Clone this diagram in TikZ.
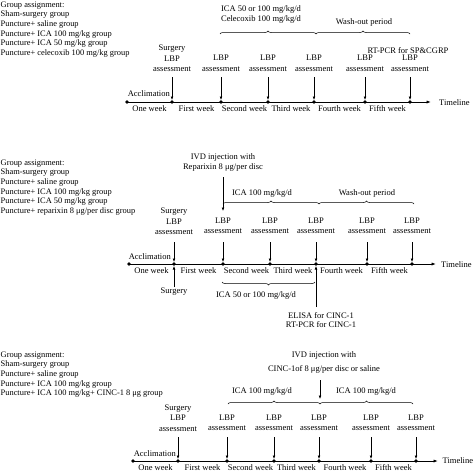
\documentclass[tikz,border=0pt]{standalone}
\usepackage{fontspec}
\setmainfont{Liberation Serif}
\usetikzlibrary{arrows.meta,decorations.pathreplacing}
\begin{document}
\begin{tikzpicture}[x=1pt,y=-1pt,
 lbl/.style={font=\fontsize{8.5}{10.5}\selectfont, inner sep=0pt, align=center},
 grp/.style={font=\fontsize{8.4}{9.6}\selectfont, inner sep=0pt, align=left, anchor=north west},
 tdot/.style={circle, fill, inner sep=0pt, minimum size=3.6pt},
 tline/.style={line width=0.9pt, -{Latex[length=4.5pt,width=3.2pt]}},
 darr/.style={line width=0.6pt, -{Latex[length=3.5pt,width=2.8pt]}},
 brc/.style={decorate, decoration={brace, amplitude=3pt}, line width=0.5pt},
 brcm/.style={decorate, decoration={brace, amplitude=3pt, mirror}, line width=0.5pt},
]
\useasboundingbox (0,0) rectangle (474,474);

%% ---------------- Panel 1 ----------------
\node[grp] (g1) at (0.5,1.5) {Group assignment:\\Sham-surgery group\\Puncture+ saline group\\Puncture+ ICA 100 mg/kg group\\Puncture+ ICA 50 mg/kg group\\Puncture+ celecoxib 100 mg/kg group};
\foreach \n/\x in {a/127,b/172,c/221,d/268,e/314,f/365,g/410} \coordinate (q1\n) at (\x,102);
\coordinate (q1end) at (431,102);
\draw[tline] (q1a) -- (q1end);
\foreach \n in {a,b,c,d,e,f,g} \node[tdot] (p1\n) at (q1\n) {};
\node[lbl, anchor=west] (tl1) at (439,103) {Timeline};
\node[lbl, anchor=east] (ac1) at (170,94) {Acclimation};
\node[lbl] (w1a) at (149.5,109) {One week};
\node[lbl] (w1b) at (196.5,109) {First week};
\node[lbl] (w1c) at (244.5,109) {Second week};
\node[lbl] (w1d) at (291,109) {Third week};
\node[lbl] (w1e) at (339.5,109) {Fourth week};
\node[lbl] (w1f) at (387.5,109) {Fifth week};
\node[lbl] (l1b) at (172,58.5) {Surgery\\LBP\\assessment};
\foreach \n in {c,d,e,f,g} \node[lbl] (l1\n) at ([yshift=-63.5pt]q1\n |- 0,0) {LBP\\assessment};
\foreach \n in {b,c,d,e,f,g} {
  \coordinate (s1\n) at ([yshift=-77pt]q1\n |- 0,0);
  \draw[darr] (s1\n) -- (p1\n);
}
\node[lbl] (rt1) at (408,51) {RT-PCR for SP\&CGRP};
\coordinate (b1a) at (220,34); \coordinate (b1b) at (316,34); \coordinate (b1c) at (410,34);
\draw[brc] (b1a) -- (b1b);
\draw[brc] (b1b) -- (b1c);
\node[lbl, align=left] (ica1) at (261,14.5) {ICA 50 or 100 mg/kg/d\\[-1.3pt]Celecoxib 100 mg/kg/d};
\node[lbl] (wo1) at (364,22) {Wash-out period};

%% ---------------- Panel 2 ----------------
\node[grp] (g2) at (0.5,159.5) {Group assignment:\\Sham-surgery group\\Puncture+ saline group\\Puncture+ ICA 100 mg/kg group\\Puncture+ ICA 50 mg/kg group\\Puncture+ reparixin 8 μg/per disc group};
\foreach \n/\x in {a/129,b/174,c/223,d/270,e/316,f/367,g/412} \coordinate (q2\n) at (\x,264);
\coordinate (q2end) at (436,264);
\draw[tline] (q2a) -- (q2end);
\foreach \n in {a,b,c,d,e,f,g} \node[tdot] (p2\n) at (q2\n) {};
\node[lbl, anchor=west] (tl2) at (441,265) {Timeline};
\node[lbl, anchor=east] (ac2) at (171,257) {Acclimation};
\node[lbl] (w2a) at (151.5,271) {One week};
\node[lbl] (w2b) at (198.5,271) {First week};
\node[lbl] (w2c) at (246.5,271) {Second week};
\node[lbl] (w2d) at (293,271) {Third week};
\node[lbl] (w2e) at (341.5,271) {Fourth week};
\node[lbl] (w2f) at (389.5,271) {Fifth week};
\node[lbl] (l2b) at (174,221.5) {Surgery\\LBP\\assessment};
\foreach \n in {c,d,e,f,g} \node[lbl] (l2\n) at ([yshift=-226pt]q2\n |- 0,0) {LBP\\assessment};
\foreach \n in {b,c,d,e,f,g} {
  \coordinate (s2\n) at ([yshift=-242pt]q2\n |- 0,0);
  \draw[darr] (s2\n) -- (p2\n);
}
\node[lbl] (ivd2) at (223,162.5) {IVD injection with\\Reparixin 8 μg/per disc};
\coordinate (i2s) at (223,177); \coordinate (i2e) at (223,211);
\draw[darr] (i2s) -- (i2e);
\coordinate (b2a) at (223,204); \coordinate (b2b) at (319,204); \coordinate (b2c) at (414,204);
\draw[brc] (b2a) -- (b2b);
\draw[brc] (b2b) -- (b2c);
\node[lbl] (ica2) at (262,193) {ICA 100 mg/kg/d};
\node[lbl] (wo2) at (367,193) {Wash-out period};
% below the timeline
\coordinate (su2s) at (174,287);
\draw[darr] (su2s) -- (p2b);
\node[lbl] (su2) at (174,292) {Surgery};
\coordinate (b2d) at (222,282); \coordinate (b2e) at (315,282);
\draw[brcm] (b2d) -- (b2e);
\node[lbl] (ica2b) at (256,295) {ICA 50 or 100 mg/kg/d};
\coordinate (el2s) at (316,307);
\draw[darr] (el2s) -- (p2e);
\node[lbl] (el2) at (321,320) {ELISA for CINC-1\\[-1pt]RT-PCR for CINC-1};

%% ---------------- Panel 3 ----------------
\node[grp] (g3) at (0.5,351.5) {Group assignment:\\Sham-surgery group\\Puncture+ saline group\\Puncture+ ICA 100 mg/kg group\\Puncture+ ICA 100 mg/kg+ CINC-1 8 μg group};
\foreach \n/\x in {a/133,b/178,c/227,d/274,e/319,f/371,g/416} \coordinate (q3\n) at (\x,461);
\coordinate (q3end) at (438,461);
\draw[tline] (q3a) -- (q3end);
\foreach \n in {a,b,c,d,e,f,g} \node[tdot] (p3\n) at (q3\n) {};
\node[lbl, anchor=west] (tl3) at (442.5,461) {Timeline};
\node[lbl, anchor=east] (ac3) at (176,454) {Acclimation};
\node[lbl] (w3a) at (155.5,467.5) {One week};
\node[lbl] (w3b) at (202.5,467.5) {First week};
\node[lbl] (w3c) at (250.5,467.5) {Second week};
\node[lbl] (w3d) at (296.5,467.5) {Third week};
\node[lbl] (w3e) at (345,467.5) {Fourth week};
\node[lbl] (w3f) at (393.5,467.5) {Fifth week};
\node[lbl] (l3b) at (178,418) {Surgery\\LBP\\assessment};
\foreach \n in {c,d,e,f,g} \node[lbl] (l3\n) at ([yshift=-423pt]q3\n |- 0,0) {LBP\\assessment};
\foreach \n in {b,c,d,e,f,g} {
  \coordinate (s3\n) at ([yshift=-437pt]q3\n |- 0,0);
  \draw[darr] (s3\n) -- (p3\n);
}
\node[lbl] (ivd3) at (324,362.5) {IVD injection with\\[4pt]CINC-1of 8 μg/per disc or saline};
\coordinate (i3s) at (320,380); \coordinate (i3e) at (320,399);
\draw[darr] (i3s) -- (i3e);
\coordinate (b3a) at (228,404); \coordinate (b3b) at (320,404); \coordinate (b3c) at (413,404);
\draw[brc] (b3a) -- (b3b);
\draw[brc] (b3b) -- (b3c);
\node[lbl] (ica3a) at (262,391) {ICA 100 mg/kg/d};
\node[lbl] (ica3b) at (366,391) {ICA 100 mg/kg/d};
\end{tikzpicture}
\end{document}
